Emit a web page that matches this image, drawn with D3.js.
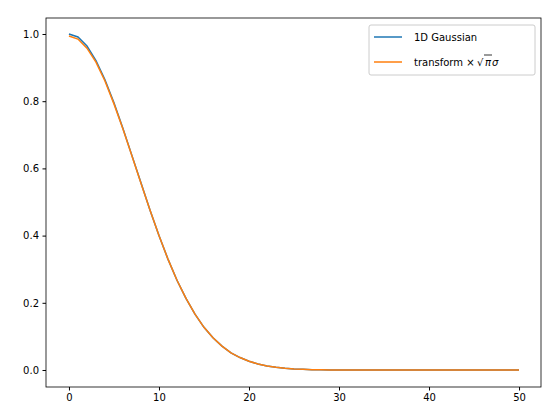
<!DOCTYPE html>
<html><head><meta charset="utf-8">
<script src="https://cdn.jsdelivr.net/npm/d3@7"></script>
<style>body{margin:0;background:#fff}text{font-family:"DejaVu Sans";font-size:10px}</style>
</head><body><svg id="c" width="546" height="417"></svg>
<script>
// Series values, x = 0..50
const gauss = [1.000,0.991,0.964,0.921,0.864,0.795,0.719,0.638,0.557,0.476,
  0.400,0.330,0.267,0.213,0.166,0.127,0.096,0.071,0.051,0.037,
  0.026,0.018,0.012,0.008,0.005,0.003,0.002,0.001,0.001,0,
  0,0,0,0,0,0,0,0,0,0, 0,0,0,0,0,0,0,0,0,0, 0]
const transform = [0.994,0.985,0.958,0.916,0.860,0.792,0.717,0.637,0.556,0.476,
  0.400,0.330,0.267,0.213,0.166,0.127,0.096,0.071,0.051,0.037,
  0.026,0.018,0.012,0.008,0.005,0.003,0.002,0.001,0.001,0,
  0,0,0,0,0,0,0,0,0,0, 0,0,0,0,0,0,0,0,0,0, 0]
const xTicks = [0,10,20,30,40,50]
const yTicks = [0,0.2,0.4,0.6,0.8,1.0]

const L = 46, R = 541, T = 18, B = 387
const svg = d3.select("#c")
const x = d3.scaleLinear().domain([-2.55, 52.44]).range([L, R])
const y = d3.scaleLinear().domain([-0.0506, 1.0476]).range([B, T])

svg.append("g").attr("transform", `translate(0,${B})`)
  .call(d3.axisBottom(x).tickValues(xTicks).tickSize(3.5).tickPadding(3.5).tickFormat(d3.format("d")))
svg.append("g").attr("transform", `translate(${L},0)`)
  .call(d3.axisLeft(y).tickValues(yTicks).tickSize(3.5).tickPadding(3.5).tickFormat(d3.format(".1f")))
svg.selectAll(".domain").remove()
svg.selectAll(".tick text").attr("fill", "#000").style("font-size", "10px")
svg.selectAll(".tick line").attr("stroke", "#000")

const line = d3.line().x((d, i) => x(i)).y(d => y(d))
svg.append("path").datum(gauss).attr("d", line).attr("fill", "none").attr("stroke", "#1f77b4").attr("stroke-width", 1.5)
svg.append("path").datum(transform).attr("d", line).attr("fill", "none").attr("stroke", "#ff7f0e").attr("stroke-width", 1.5)

svg.append("rect").attr("x", L).attr("y", T).attr("width", R - L).attr("height", B - T)
  .attr("fill", "none").attr("stroke", "#000").attr("stroke-width", 0.8)

// legend
const lg = svg.append("g")
lg.append("rect").attr("x", 369).attr("y", 25).attr("width", 166).attr("height", 50).attr("rx", 2)
  .attr("fill", "#fff").attr("fill-opacity", 0.8).attr("stroke", "#ccc")
const items = [["1D Gaussian", "#1f77b4", 37], ["transform ×", "#ff7f0e", 62]]
items.forEach(([t, c, yy]) => {
  lg.append("line").attr("x1", 374).attr("x2", 402).attr("y1", yy).attr("y2", yy).attr("stroke", c).attr("stroke-width", 1.5)
  lg.append("text").attr("x", 414).attr("y", yy + 4).text(t)
})
const tx = 414 + 63
lg.append("text").attr("x", tx).attr("y", 66).text("√").append("tspan").text("")
lg.append("line").attr("x1", tx + 7).attr("x2", tx + 15).attr("y1", 55).attr("y2", 55).attr("stroke", "#000").attr("stroke-width", 0.8)
lg.append("text").attr("x", tx + 8).attr("y", 66).attr("font-style", "italic").text("π")
lg.append("text").attr("x", tx + 15).attr("y", 66).attr("font-style", "italic").text("σ")
</script></body></html>
